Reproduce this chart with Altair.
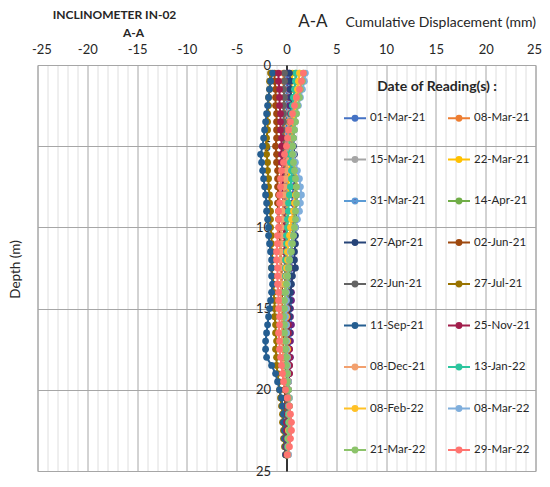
import altair as alt
import pandas as pd

DATES = ["01-Mar-21", "08-Mar-21", "15-Mar-21", "22-Mar-21", "31-Mar-21", "14-Apr-21",
         "27-Apr-21", "02-Jun-21", "22-Jun-21", "27-Jul-21", "11-Sep-21", "25-Nov-21",
         "08-Dec-21", "13-Jan-22", "08-Feb-22", "08-Mar-22", "21-Mar-22", "29-Mar-22"]

LINE_COLORS = ["#4472C4", "#ED7D31", "#A5A5A5", "#FFC000", "#5B9BD5", "#70AD47",
               "#264478", "#9E480E", "#636363", "#997300", "#255E91", "#A11D4B",
               "#F2A06E", "#2CC59E", "#FFC126", "#7FAEDC", "#8CC36A", "#FF7470"]
MARKER_COLORS = ["#4472C4", "#ED7D31", "#A5A5A5", "#FFC000", "#6B2080", "#70AD47",
                 "#264478", "#9E480E", "#636363", "#997300", "#255E91", "#A11D4B",
                 "#F2A06E", "#2CC59E", "#FFC126", "#7FAEDC", "#8CC36A", "#FF7470"]

DEPTHS = [0.5, 1.0, 1.5, 2.0, 2.5, 3.0, 3.5, 4.0, 4.5, 5.0,
          5.5, 6.0, 6.5, 7.0, 7.5, 8.0, 8.5, 9.0, 9.5, 10.0,
          10.5, 11.0, 11.5, 12.0, 12.5, 13.0, 13.5, 14.0, 14.5, 15.0,
          15.5, 16.0, 16.5, 17.0, 17.5, 18.0, 18.5, 19.0, 19.5, 20.0,
          20.5, 21.0, 21.5, 22.0, 22.5, 23.0, 23.5, 24.0]

S_01MAR21 = [0.0, 0.0, 0.0, 0.0, 0.0, 0.0, 0.0, 0.0, 0.0, 0.0,
             0.0, 0.0, 0.0, 0.0, 0.0, 0.0, 0.0, 0.0, 0.0, 0.0,
             0.0, 0.0, 0.0, 0.0, 0.0, 0.0, 0.0, 0.0, 0.0, 0.0,
             0.0, 0.0, 0.0, 0.0, 0.0, 0.0, 0.0, 0.0, 0.0, 0.0,
             0.0, 0.0, 0.0, 0.0, 0.0, 0.0, 0.0, 0.0]
S_08MAR21 = [-0.3, -0.3, -0.3, -0.2, -0.3, -0.2, -0.2, -0.3, -0.2, -0.2,
             -0.2, -0.1, -0.2, -0.2, -0.1, -0.1, -0.2, -0.1, -0.1, -0.1,
             -0.1, -0.2, -0.1, -0.1, -0.1, 0.0, -0.1, -0.1, 0.0, -0.1,
             -0.1, 0.0, -0.1, 0.0, 0.0, -0.1, 0.0, 0.0, 0.0, 0.0,
             0.0, 0.0, 0.0, 0.0, 0.0, 0.0, 0.0, 0.0]
S_15MAR21 = [0.3, 0.3, 0.2, 0.2, 0.2, 0.1, 0.2, 0.1, 0.1, 0.1,
             0.0, 0.1, 0.0, 0.0, 0.1, 0.0, 0.0, -0.1, 0.0, 0.0,
             0.0, -0.1, 0.0, 0.0, -0.1, 0.0, 0.0, 0.0, -0.1, 0.0,
             0.0, 0.0, 0.0, 0.1, 0.0, 0.0, 0.0, 0.0, 0.0, 0.0,
             0.0, 0.0, 0.0, 0.0, 0.0, 0.0, 0.0, 0.0]
S_22MAR21 = [0.6, 0.5, 0.5, 0.4, 0.4, 0.4, 0.3, 0.3, 0.3, 0.3,
             0.2, 0.3, 0.3, 0.2, 0.2, 0.2, 0.1, 0.1, 0.1, 0.1,
             0.0, 0.0, 0.1, 0.0, 0.0, -0.1, 0.0, 0.0, 0.0, 0.0,
             -0.1, 0.0, 0.0, 0.0, 0.0, 0.0, 0.1, 0.0, 0.0, 0.1,
             0.1, 0.1, 0.1, 0.0, 0.1, 0.0, 0.0, 0.0]
S_31MAR21 = [0.2, 0.2, 0.3, 0.3, 0.3, 0.4, 0.4, 0.4, 0.5, 0.5,
             0.5, 0.6, 0.6, 0.7, 0.7, 0.6, 0.6, 0.7, 0.6, 0.6,
             0.6, 0.5, 0.6, 0.5, 0.5, 0.5, 0.4, 0.5, 0.5, 0.4,
             0.4, 0.5, 0.4, 0.4, 0.3, 0.4, 0.3, 0.3, 0.2, 0.2,
             0.1, 0.1, 0.1, 0.0, 0.0, 0.0, 0.0, 0.0]
S_14APR21 = [0.9, 0.9, 0.8, 0.8, 0.7, 0.7, 0.7, 0.6, 0.6, 0.6,
             0.7, 0.7, 0.8, 0.8, 0.9, 0.9, 0.9, 0.8, 0.8, 0.7,
             0.6, 0.5, 0.4, 0.4, 0.3, 0.3, 0.2, 0.3, 0.2, 0.2,
             0.2, 0.1, 0.2, 0.1, 0.1, 0.1, 0.1, 0.0, 0.1, 0.0,
             0.1, 0.1, 0.0, 0.0, 0.1, 0.0, 0.0, 0.0]
S_27APR21 = [0.3, 0.4, 0.4, 0.5, 0.5, 0.5, 0.6, 0.6, 0.7, 0.7,
             0.8, 0.8, 0.9, 0.9, 0.9, 1.0, 1.0, 0.9, 1.0, 0.9,
             0.9, 0.9, 0.8, 0.8, 0.9, 0.6, 0.5, 0.4, 0.3, 0.3,
             0.3, 0.2, 0.3, 0.2, 0.2, 0.2, 0.1, 0.1, 0.1, 0.1,
             0.0, 0.0, 0.0, 0.0, 0.0, 0.0, 0.0, 0.0]
S_02JUN21 = [-1.2, -1.2, -1.1, -1.1, -1.1, -1.0, -1.0, -1.0, -1.0, -1.1,
             -1.0, -1.0, -0.9, -0.9, -0.9, -0.8, -0.9, -0.8, -0.8, -0.7,
             -0.7, -0.6, -0.6, -0.6, -0.5, -0.5, -0.5, -0.4, -0.5, -0.4,
             -0.4, -0.4, -0.3, -0.4, -0.3, -0.3, -0.3, -0.2, -0.2, -0.2,
             -0.1, -0.2, -0.1, -0.1, -0.1, 0.0, -0.1, 0.0]
S_22JUN21 = [-0.2, -0.2, -0.3, -0.2, -0.3, -0.3, -0.3, -0.4, -0.3, -0.3,
             -0.4, -0.3, -0.3, -0.3, -0.2, -0.3, -0.2, -0.2, -0.2, -0.2,
             -0.1, -0.1, -0.2, -0.1, -0.1, -0.1, -0.1, 0.0, -0.1, 0.0,
             0.0, 0.0, 0.0, 0.0, 0.0, 0.1, 0.0, 0.0, 0.0, 0.0,
             0.0, 0.0, 0.0, -0.1, 0.0, 0.0, 0.0, 0.0]
S_27JUL21 = [-1.6, -1.7, -1.7, -1.8, -1.8, -1.9, -1.9, -1.9, -2.0, -2.0,
             -2.0, -1.9, -1.9, -1.8, -1.8, -1.7, -1.7, -1.6, -1.6, -1.6,
             -1.5, -1.5, -1.5, -1.4, -1.5, -1.4, -1.3, -1.3, -1.2, -1.2,
             -1.2, -1.1, -1.1, -1.0, -1.1, -1.0, -1.0, -0.9, -0.8, -0.7,
             -0.6, -0.5, -0.4, -0.4, -0.3, -0.3, -0.2, -0.1]
S_11SEP21 = [-1.4, -1.6, -1.7, -1.8, -1.9, -2.0, -2.1, -2.2, -2.3, -2.4,
             -2.6, -2.5, -2.4, -2.3, -2.2, -2.1, -2.0, -2.0, -1.9, -1.8,
             -1.8, -1.7, -1.6, -1.5, -1.5, -1.5, -1.4, -1.5, -1.6, -1.7,
             -1.8, -1.9, -2.0, -2.1, -2.1, -2.0, -1.5, -1.1, -0.9, -0.7,
             -0.5, -0.4, -0.3, -0.3, -0.2, -0.2, -0.1, -0.1]
S_25NOV21 = [-0.8, -0.8, -0.7, -0.7, -0.7, -0.6, -0.6, -0.6, -0.5, -0.5,
             -0.5, -0.5, -0.4, -0.4, -0.4, -0.4, -0.3, -0.3, -0.3, -0.3,
             -0.2, -0.2, -0.2, -0.2, -0.1, -0.1, -0.1, 0.0, 0.0, 0.1,
             0.1, 0.2, 0.2, 0.2, 0.3, 0.3, 0.3, 0.3, 0.2, 0.2,
             0.1, 0.1, 0.1, 0.0, 0.0, 0.0, 0.0, 0.0]
S_08DEC21 = [1.3, 1.2, 1.0, 0.9, 0.8, 0.7, 0.6, 0.5, 0.4, 0.3,
             0.2, 0.1, 0.0, -0.1, -0.2, -0.3, -0.3, -0.4, -0.4, -0.5,
             -0.5, -0.5, -0.6, -0.6, -0.6, -0.6, -0.5, -0.6, -0.5, -0.5,
             -0.5, -0.4, -0.5, -0.4, -0.4, -0.3, -0.3, -0.2, -0.1, 0.0,
             0.1, 0.2, 0.2, 0.3, 0.3, 0.3, 0.2, 0.2]
S_13JAN22 = [1.0, 0.9, 0.8, 0.7, 0.6, 0.5, 0.5, 0.4, 0.3, 0.3,
             0.3, 0.4, 0.5, 0.5, 0.4, 0.3, 0.2, 0.2, 0.1, 0.1,
             0.0, 0.0, 0.0, -0.1, -0.1, -0.1, -0.1, -0.2, -0.1, -0.1,
             -0.1, -0.1, 0.0, 0.0, 0.0, 0.0, 0.0, 0.1, 0.1, 0.1,
             0.2, 0.2, 0.2, 0.2, 0.2, 0.1, 0.1, 0.1]
S_08FEB22 = [1.3, 1.2, 1.1, 1.0, 0.9, 0.8, 0.7, 0.6, 0.6, 0.6,
             0.7, 0.8, 0.9, 1.0, 1.0, 0.9, 0.8, 0.7, 0.5, 0.4,
             0.3, 0.2, 0.1, 0.1, 0.0, 0.0, -0.1, -0.1, -0.1, 0.0,
             0.0, 0.0, 0.0, 0.1, 0.1, 0.1, 0.1, 0.1, 0.2, 0.2,
             0.3, 0.3, 0.3, 0.3, 0.2, 0.2, 0.2, 0.1]
S_08MAR22 = [1.9, 1.8, 1.6, 1.4, 1.2, 1.0, 0.9, 0.8, 0.7, 0.6,
             0.7, 0.9, 1.1, 1.3, 1.4, 1.5, 1.4, 1.3, 1.1, 0.9,
             0.7, 0.5, 0.4, 0.3, 0.2, 0.1, 0.1, 0.0, 0.0, 0.0,
             -0.1, 0.0, 0.0, 0.0, 0.0, 0.1, 0.1, 0.1, 0.2, 0.2,
             0.3, 0.3, 0.3, 0.4, 0.3, 0.3, 0.2, 0.2]
S_21MAR22 = [1.7, 1.6, 1.4, 1.3, 1.1, 1.0, 0.9, 0.8, 0.7, 0.6,
             0.6, 0.7, 0.8, 0.9, 1.0, 1.0, 1.0, 0.9, 0.9, 0.8,
             0.7, 0.6, 0.5, 0.3, 0.2, 0.1, 0.0, -0.1, -0.2, -0.2,
             -0.3, -0.2, -0.2, -0.1, -0.1, 0.0, 0.0, 0.1, 0.1, 0.2,
             0.2, 0.3, 0.3, 0.3, 0.3, 0.2, 0.2, 0.1]
S_29MAR22 = [1.7, 1.5, 1.3, 1.0, 0.8, 0.6, 0.4, 0.2, 0.1, 0.0,
             -0.2, -0.3, -0.5, -0.6, -0.6, -0.7, -0.7, -0.8, -0.8, -0.8,
             -0.9, -0.9, -1.0, -1.0, -0.9, -0.9, -0.9, -0.8, -0.8, -0.8,
             -0.7, -0.7, -0.8, -0.7, -0.7, -0.6, -0.5, -0.4, -0.3, -0.1,
             0.1, 0.3, 0.4, 0.5, 0.5, 0.4, 0.3, 0.1]

SERIES = [S_01MAR21, S_08MAR21, S_15MAR21, S_22MAR21, S_31MAR21, S_14APR21,
          S_27APR21, S_02JUN21, S_22JUN21, S_27JUL21, S_11SEP21, S_25NOV21,
          S_08DEC21, S_13JAN22, S_08FEB22, S_08MAR22, S_21MAR22, S_29MAR22]

X_TICKS = [-25, -24, -23, -22, -21, -20, -19, -18, -17, -16, -15, -14, -13, -12, -11,
           -10, -9, -8, -7, -6, -5, -4, -3, -2, -1, 0, 1, 2, 3, 4, 5, 6, 7, 8, 9, 10,
           11, 12, 13, 14, 15, 16, 17, 18, 19, 20, 21, 22, 23, 24, 25]
Y_TICKS = [0, 5, 10, 15, 20, 25]

rows = []
for k, (d, vals) in enumerate(zip(DATES, SERIES)):
    for dep, v in zip(DEPTHS, vals):
        rows.append({"date": d, "order": k, "depth": dep, "disp": v})
df = pd.DataFrame(rows)

TXT = "#262626"
SYMBOL = "M-1,0L1,0M-0.22,0A0.22,0.22 0 1,0 0.22,0A0.22,0.22 0 1,0 -0.22,0Z"

W, H = 498, 406

legend = alt.Legend(
    title="Date of Reading(s) :", orient="none", legendX=305.5, legendY=15,
    direction="horizontal", columns=2, symbolType=SYMBOL, symbolSize=484,
    symbolStrokeWidth=2,
    labelFontSize=11.5, labelColor=TXT, labelOffset=3,
    titleFontSize=14, titleFontWeight="bold", titleColor=TXT,
    titleAnchor="middle", titlePadding=12, rowPadding=22.5, columnPadding=18,
    padding=0,
)

xscale = alt.Scale(domain=[-25, 25], nice=False, zero=False)
yscale = alt.Scale(domain=[0, 25], reverse=True, nice=False)

lines = alt.Chart(df).mark_line(strokeWidth=2).encode(
    x=alt.X("disp:Q", scale=xscale, axis=alt.Axis(
        orient="top", values=X_TICKS,
        labelExpr="datum.value % 5 === 0 ? datum.value + '' : ''",
        grid=True,
        gridColor={"condition": {"test": "datum.value % 5 === 0", "value": "#A6A6A6"},
                   "value": "#DEDEDE"},
        domain=False, ticks=False, tickSize=0, labelPadding=9,
        labelFlush=True, labelFlushOffset=6,
        labelOverlap=False, labelBound=False, labelFontSize=13, labelColor=TXT,
        title="Cumulative Displacement (mm)", titleX=W, titleY=-39,
        titleAlign="right", titleBaseline="alphabetic", titleFontSize=14,
        titleFontWeight="normal", titleColor=TXT)),
    y=alt.Y("depth:Q", scale=yscale, axis=alt.Axis(
        orient="left", values=Y_TICKS, grid=True, gridColor="#A6A6A6",
        labels=False, ticks=False, domain=False,
        title="Depth (m)", titleX=-22.5, titleY=204, titleAngle=270,
        titleAlign="center", titleBaseline="middle", titleFontSize=13.5,
        titleFontWeight="normal", titleColor=TXT)),
    stroke=alt.Stroke("date:N", scale=alt.Scale(domain=DATES, range=LINE_COLORS),
                      legend=legend),
    order=alt.Order("depth:Q"),
    detail="date:N",
)

points = alt.Chart(df).mark_point(filled=True, size=46, opacity=1).encode(
    x=alt.X("disp:Q", scale=xscale, axis=alt.Axis(
        orient="top", labels=False, grid=False, ticks=False, domain=False,
        title="A-A", titleX=289.5, titleY=-39, titleAlign="right",
        titleBaseline="alphabetic", titleFontSize=17, titleFontWeight="normal",
        titleColor=TXT)),
    y=alt.Y("depth:Q", scale=yscale, axis=alt.Axis(
        orient="left", offset=-W / 2, values=Y_TICKS, grid=False, ticks=False,
        tickSize=0, labelPadding=16, labelFontSize=13, labelColor=TXT,
        domain=True, domainColor="#000000", domainWidth=1.5, zindex=0,
        title="A-A", titleX=-153.5, titleY=-33, titleAngle=0,
        titleAlign="center", titleBaseline="middle", titleFontSize=12,
        titleFontWeight="bold", titleColor=TXT)),
    fill=alt.Fill("date:N", scale=alt.Scale(domain=DATES, range=MARKER_COLORS),
                  legend=legend),
    order=alt.Order("order:Q"),
)

chart = alt.layer(lines, points).resolve_axis(
    x="independent", y="independent"
).properties(
    width=W, height=H,
    autosize=alt.AutoSizeParams(type="none"),
    padding={"left": 29.5, "top": 57, "right": 6.5, "bottom": 7.5},
    title=alt.TitleParams(
        text="INCLINOMETER IN-02", anchor="start", frame="group", align="center",
        dx=77, dy=9.5, fontSize=12, fontWeight="bold", color=TXT, offset=0),
).configure(font="Lato").configure_view(stroke="#A6A6A6", strokeWidth=1)

chart.save("out.html", embed_options={"renderer": "svg", "actions": False})
